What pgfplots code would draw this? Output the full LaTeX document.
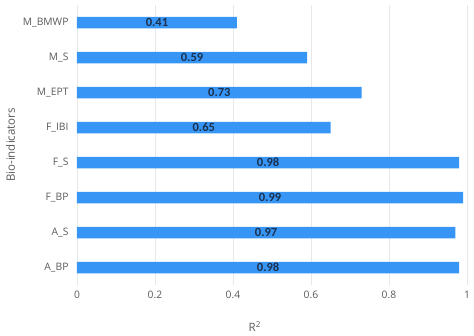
\documentclass[border=0pt]{standalone}
\usepackage{pgfplots}
\pgfplotsset{compat=1.18}
\usepackage{pgfplotstable}
\usepackage{fontspec}
\setmainfont{Open Sans}
\newfontfamily\valfont{Carlito}
\definecolor{barblue}{RGB}{55,150,245}
\definecolor{lblnavy}{RGB}{28,48,78}
\definecolor{ticgray}{RGB}{90,90,90}
\definecolor{gridgray}{RGB}{232,232,232}
\pgfplotstableread{
i r
0 0.98
1 0.97
2 0.99
3 0.98
4 0.65
5 0.73
6 0.59
7 0.41
}\datatab
\begin{document}
\begin{tikzpicture}
\begin{axis}[
  at={(0,0)}, anchor=south west,
  scale only axis, width=390bp, height=280bp,
  xmin=0, xmax=1, ymin=-0.5, ymax=7.5,
  axis line style={draw=none},
  /pgf/number format/assume math mode=true,
  xtick={0,0.2,0.4,0.6,0.8,1},
  xticklabels={0,0.2,0.4,0.6,0.8,1},
  ytick={0,1,2,3,4,5,6,7},
  yticklabels={A\_BP,A\_S,F\_BP,F\_S,F\_IBI,M\_EPT,M\_S,M\_BMWP},
  tick style={draw=none},
  xmajorgrids, grid style={gridgray, line width=0.8pt},
  ticklabel style={font=\fontsize{10.3bp}{12bp}\selectfont, text=ticgray},
  yticklabel style={xshift=-5bp},
  xticklabel style={yshift=-3bp},
  ylabel={Bio-indicators},
  ylabel style={font=\fontsize{11.5bp}{13bp}\selectfont, text=ticgray, yshift=1bp},
  xlabel={R\textsuperscript{2}},
  xlabel style={font=\fontsize{11.5bp}{13bp}\selectfont, text=ticgray, at={(axis description cs:0.456,0)}, anchor=north, yshift=-33bp},
  clip=false,
]
\addplot[xbar, bar width=11.5bp, fill=barblue, draw=none] table[x=r, y=i] {\datatab};
\addplot[draw=none, mark=none, nodes near coords, point meta=explicit,
  nodes near coords style={anchor=center, font=\valfont\fontsize{12.5bp}{14bp}\selectfont\bfseries, text=lblnavy,
    /pgf/number format/.cd, fixed, precision=2, zerofill, assume math mode=true}]
  table[x expr=\thisrow{r}/2, y=i, meta=r] {\datatab};
\end{axis}
\path[use as bounding box] (-77bp,-51bp) rectangle (397bp,285bp);
\end{tikzpicture}
\end{document}
